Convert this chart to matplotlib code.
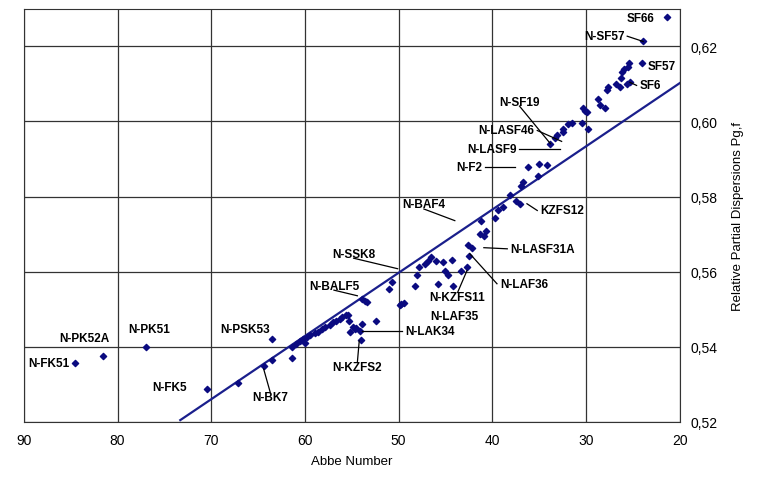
import matplotlib
matplotlib.use("Agg")
import matplotlib.pyplot as plt
import numpy as np

plt.rcParams['font.family'] = ['Liberation Sans', 'DejaVu Sans']

# Glaspunkte (Abbe-Zahl, relative Teildispersion)
abbe = [84.5, 81.6, 77.0, 63.5, 70.5, 67.1, 64.4, 63.5, 61.4, 61.4, 60.9, 60.5, 60.2, 60.0,
        59.8, 59.5, 58.9, 58.6, 58.2, 57.9, 57.3, 57.0, 56.7, 56.3, 56.0, 55.6, 55.3, 55.4,
        55.2, 54.9, 54.7, 54.5, 54.1, 53.9, 54.0, 53.9, 53.6, 53.4, 52.4, 51.0, 50.7, 49.9,
        49.7, 49.4, 48.3, 48.0, 47.8, 47.2, 46.9, 46.5, 46.0, 45.8, 45.3, 45.0, 44.7, 44.2,
        44.3, 43.3, 42.7, 42.5, 42.6, 42.2, 41.3, 41.2, 40.9, 40.7, 39.7, 39.4, 38.9, 38.1,
        37.5, 37.0, 36.9, 36.7, 36.2, 35.0, 35.1, 34.2, 33.8, 33.3, 33.1, 32.5, 32.4, 31.9,
        31.5, 30.4, 30.3, 30.1, 29.9, 29.8, 28.7, 28.5, 28.0, 27.7, 26.8, 26.3, 26.2, 25.9,
        25.5, 25.4, 24.0, 26.4, 25.6, 25.3, 27.8, 23.9, 21.3]
pgf = [0.5357, 0.5376, 0.5400, 0.5421, 0.5288, 0.5304, 0.5349, 0.5365, 0.5371, 0.5400, 0.5408,
       0.5416, 0.5421, 0.5411, 0.5427, 0.5432, 0.5437, 0.5440, 0.5448, 0.5453, 0.5459, 0.5467,
       0.5469, 0.5475, 0.5480, 0.5485, 0.5469, 0.5485, 0.5440, 0.5453, 0.5448, 0.5451, 0.5443,
       0.5461, 0.5419, 0.5528, 0.5523, 0.5520, 0.5469, 0.5555, 0.5573, 0.5512, 0.5515, 0.5517,
       0.5563, 0.5592, 0.5613, 0.5621, 0.5629, 0.5640, 0.5629, 0.5568, 0.5627, 0.5603, 0.5592,
       0.5563, 0.5632, 0.5603, 0.5613, 0.5643, 0.5672, 0.5664, 0.5701, 0.5736, 0.5696, 0.5709,
       0.5744, 0.5763, 0.5773, 0.5803, 0.5787, 0.5779, 0.5827, 0.5840, 0.5880, 0.5888, 0.5856,
       0.5883, 0.5941, 0.5955, 0.5963, 0.5973, 0.5979, 0.5992, 0.5995, 0.5995, 0.6035, 0.6029,
       0.6024, 0.5981, 0.6061, 0.6045, 0.6035, 0.6093, 0.6099, 0.6117, 0.6133, 0.6141, 0.6144,
       0.6155, 0.6155, 0.6093, 0.6101, 0.6104, 0.6083, 0.6213, 0.6277]

# Normalgerade
line_v = [73.3, 20.0]
line_p = [0.5205, 0.6102]

# Beschriftungen: Text, Textposition, Ausrichtung, Ende der Hinweislinie (oder None)
labels = [
    ("SF66", (22.7, 0.6275), "right", None),
    ("N-SF57", (25.9, 0.6227), "right", (23.9, 0.6213)),
    ("SF57", (23.4, 0.6149), "left", None),
    ("SF6", (24.3, 0.6096), "left", (25.3, 0.6104)),
    ("N-SF19", (37.1, 0.6053), "center", (33.8, 0.5941)),
    ("N-LASF46", (35.5, 0.5976), "right", (32.6, 0.5947)),
    ("N-LASF9", (37.4, 0.5928), "right", (32.8, 0.5928)),
    ("N-F2", (41.1, 0.5880), "right", (37.6, 0.5880)),
    ("N-BAF4", (47.3, 0.5779), "center", (44.0, 0.5736)),
    ("KZFS12", (34.9, 0.5763), "left", (36.3, 0.5781)),
    ("N-SSK8", (54.8, 0.5648), "center", (50.1, 0.5608)),
    ("N-LASF31A", (38.1, 0.5661), "left", (40.9, 0.5664)),
    ("N-LAF36", (39.2, 0.5568), "left", (42.4, 0.5648)),
    ("N-KZFS11", (43.7, 0.5533), "center", (42.7, 0.5603)),
    ("N-LAF35", (44.0, 0.5483), "center", None),
    ("N-LAK34", (49.3, 0.5443), "left", (53.9, 0.5443)),
    ("N-BALF5", (56.9, 0.5563), "center", (54.4, 0.5536)),
    ("N-KZFS2", (54.4, 0.5347), "center", (54.2, 0.5416)),
    ("N-BK7", (63.7, 0.5267), "center", (64.4, 0.5341)),
    ("N-FK5", (74.4, 0.5293), "center", None),
    ("N-PSK53", (66.4, 0.5448), "center", None),
    ("N-PK51", (76.6, 0.5448), "center", None),
    ("N-PK52A", (83.5, 0.5424), "center", None),
    ("N-FK51", (85.1, 0.5357), "right", None),
]

navy = "#1a1f8c"

fig = plt.figure(figsize=(7.68, 4.89), dpi=100)
ax = fig.add_axes([0.031, 0.135, 0.854, 0.845])

ax.plot(line_v, line_p, color=navy, lw=1.6, zorder=2)
ax.scatter(abbe, pgf, marker="D", s=10, color="#0a0a80", zorder=3)

for txt, pos, ha, end in labels:
    ax.text(pos[0], pos[1], txt, ha=ha, va="center", fontsize=8.5, fontweight="bold", zorder=4)
    if end is not None:
        if ha == "right":
            start = (pos[0] - 0.3, pos[1])
        elif ha == "left":
            start = (pos[0] + 0.3, pos[1])
        else:
            start = (pos[0], pos[1] - 0.0012 if end[1] < pos[1] else pos[1] + 0.0012)
        ax.plot([start[0], end[0]], [start[1], end[1]], color="black", lw=0.9, zorder=4)

ax.set_xlim(90, 20)
ax.set_ylim(0.52, 0.63)
ax.set_xticks(np.arange(90, 19, -10))
ax.set_yticks(np.arange(0.52, 0.621, 0.02))
ax.set_yticklabels([f"{t:.2f}".replace(".", ",") for t in np.arange(0.52, 0.621, 0.02)])
ax.yaxis.tick_right()
ax.yaxis.set_label_position("right")
ax.tick_params(length=0, labelsize=10, pad=8)
ax.grid(True, color="#333333", lw=0.9)
ax.set_axisbelow(True)
for s in ax.spines.values():
    s.set_color("#333333")
ax.set_xlabel("Abbe Number", fontsize=9.5, labelpad=6)
ax.set_ylabel("Relative Partial Dispersions Pg,f", fontsize=9.5, labelpad=10)

fig.savefig("out.png", dpi=100)
